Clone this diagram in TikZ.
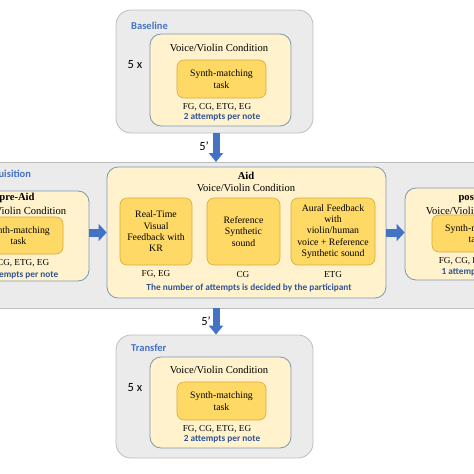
\documentclass[tikz,border=0pt]{standalone}
\usepackage{fontspec}
\setmainfont{Liberation Serif}
\newfontfamily\calfont{Carlito}
\usetikzlibrary{arrows.meta}
\definecolor{grayfill}{HTML}{EBEBEB}
\definecolor{grayline}{HTML}{BDBDBD}
\definecolor{yelfill}{HTML}{FFF2CC}
\definecolor{yelline}{HTML}{7F98B0}
\definecolor{goldfill}{HTML}{FFD966}
\definecolor{goldline}{HTML}{D9A93C}
\definecolor{lblue}{HTML}{4472C4}
\definecolor{dblue}{HTML}{2F5597}
\tikzset{
  outerbox/.style={draw=grayline, fill=grayfill, line width=0.8pt, rounded corners=15pt, inner sep=0pt},
  phasebox/.style={draw=yelline, fill=yelfill, line width=0.8pt, rounded corners=11pt, inner sep=0pt},
  taskbox/.style={draw=goldline, fill=goldfill, line width=0.6pt, rounded corners=7pt, inner sep=0pt, align=center, font=\fontsize{9.8}{11.3}\selectfont},
  txt/.style={font=\fontsize{10.6}{12}\selectfont, inner sep=0pt},
  grp/.style={font=\fontsize{9.2}{11}\selectfont, inner sep=0pt},
  note/.style={font=\calfont\bfseries\fontsize{9.3}{11}\selectfont, text=dblue, inner sep=0pt},
  title/.style={font=\calfont\bfseries\fontsize{10.5}{12}\selectfont, text=lblue, inner sep=0pt, anchor=west},
  times/.style={font=\calfont\fontsize{12.5}{14}\selectfont, inner sep=0pt},
  bigarrow/.style={draw=lblue, line width=7pt, -{Triangle[width=14pt,length=9pt]}},
  sidearrow/.style={draw=lblue, line width=8pt, -{Triangle[width=17pt,length=8pt]}}
}
\begin{document}
\begin{tikzpicture}[x=1pt,y=-1pt]
\useasboundingbox (0,0) rectangle (474,474);
% Baseline
\node[outerbox, minimum width=197pt, minimum height=123pt] (base) at (214.5,71.5) {};
\node[title] (basel) at (131,26) {Baseline};
\node[phasebox, minimum width=141pt, minimum height=92pt] (basein) at (220.5,80) {};
\node[txt] (basevv) at (219,48) {Voice/Violin Condition};
\node[taskbox, minimum width=89pt, minimum height=38pt] (basetask) at (221.5,79) {Synth-matching\\task};
\node[grp] (basegrp) at (217,107) {FG, CG, ETG, EG};
\node[note] (basenote) at (222,117.5) {2 attempts per note};
\node[times] (basex) at (135,65) {5 x};
% Acquisition band
\fill[grayfill] (-5,162) rectangle (480,308);
\draw[grayline, line width=0.8pt] (-5,162) -- (480,162) (-5,308) -- (480,308);
\coordinate (acqn) at (216,162);
\coordinate (acqs) at (216,308);
\node[title] (acql) at (-18,175) {Acquisition};
% pre-Aid
\node[phasebox, minimum width=141pt, minimum height=90pt] (pre) at (18.5,236) {};
\node[txt, font=\bfseries\fontsize{10.6}{12}\selectfont] (prel) at (17,198) {pre-Aid};
\node[txt] (prevv) at (17,211) {Voice/Violin Condition};
\node[taskbox, minimum width=89pt, minimum height=37pt] (pretask) at (18.5,235.5) {Synth-matching\\task};
\node[grp] (pregrp) at (15,263) {FG, CG, ETG, EG};
\node[note] (prenote) at (20,275) {2 attempts per note};
% Aid
\node[phasebox, minimum width=279pt, minimum height=131pt] (aid) at (246.5,232.5) {};
\node[txt, font=\bfseries\fontsize{10.6}{12}\selectfont] (aidl) at (246,175.5) {Aid};
\node[txt] (aidvv) at (246,188) {Voice/Violin Condition};
\node[taskbox, minimum width=72pt, minimum height=67pt] (aid1) at (156,231.5) {Real-Time\\Visual\\Feedback with\\KR};
\node[taskbox, minimum width=73pt, minimum height=67pt] (aid2) at (243.5,231.5) {Reference\\Synthetic\\sound};
\node[taskbox, minimum width=84pt, minimum height=67pt] (aid3) at (333,231.5) {Aural Feedback\\with\\violin/human\\voice + Reference\\Synthetic sound};
\node[grp] (aid1g) at (156,274) {FG, EG};
\node[grp] (aid2g) at (243,274) {CG};
\node[grp] (aid3g) at (333,274) {ETG};
\node[note] (aidnote) at (249,288) {The number of attempts is decided by the participant};
% post-Aid
\node[phasebox, minimum width=141pt, minimum height=92pt] (post) at (475.5,234) {};
\node[txt, font=\bfseries\fontsize{10.6}{12}\selectfont] (postl) at (478,198) {post-Aid};
\node[txt] (postvv) at (475,211) {Voice/Violin Condition};
\node[taskbox, minimum width=89pt, minimum height=37pt] (posttask) at (476.5,233.5) {Synth-matching\\task};
\node[grp] (postgrp) at (473,261.5) {FG, CG, ETG, EG};
\node[note] (postnote) at (478,272) {1 attempt per note};
% Transfer
\node[outerbox, minimum width=197pt, minimum height=123pt] (tr) at (214.5,396.5) {};
\node[title] (trl) at (131,348) {Transfer};
\node[phasebox, minimum width=141pt, minimum height=91pt] (trin) at (220.5,402.5) {};
\node[txt] (trvv) at (219,370) {Voice/Violin Condition};
\node[taskbox, minimum width=89pt, minimum height=38pt] (trtask) at (221.5,401) {Synth-matching\\task};
\node[grp] (trgrp) at (217,429) {FG, CG, ETG, EG};
\node[note] (trnote) at (222,439.5) {2 attempts per note};
\node[times] (trx) at (135,388) {5 x};
% arrows
\draw[bigarrow] (base.south -| acqn) -- (acqn);
\node[times] (d1) at (204,146) {5’};
\draw[bigarrow] (acqs) -- (tr.north -| acqs);
\node[times] (d2) at (206,321) {5’};
\draw[sidearrow] (pre.east |- aid.west) -- (aid.west);
\draw[sidearrow] (aid.east) -- (post.west |- aid.east);
\end{tikzpicture}
\end{document}
